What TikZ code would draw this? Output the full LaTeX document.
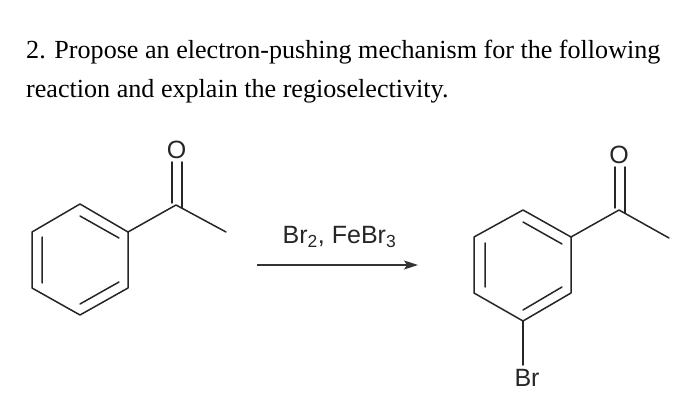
\documentclass[tikz,border=0pt]{standalone}
\usepackage{fontspec}
\setmainfont{Liberation Serif}
\newfontfamily\chemfont{Liberation Sans}
\usetikzlibrary{arrows.meta}
\tikzset{
  bond/.style={line width=1.5pt,color=black!85,line cap=round,line join=round},
  atom/.style={inner sep=0pt,font=\chemfont\fontsize{25}{25}\selectfont,text=black!85},
  reagent/.style={inner sep=0pt,font=\chemfont\fontsize{25}{26}\selectfont,text=black!85},
  question/.style={inner sep=0pt,anchor=base west,font=\fontsize{26.1}{28}\selectfont,text=black},
  rxnarrow/.style={line width=1.5pt,color=black!80,-{Stealth[length=14pt,width=9pt,inset=3pt]}}
}
\begin{document}
\begin{tikzpicture}[x=1pt,y=-1pt]
\useasboundingbox (0,0) rectangle (700,419);
\node[question] (q1) at (26,59) {2. Propose an electron-pushing mechanism for the following};
\node[question] (q2) at (26,98) {reaction and explain the regioselectivity.};
% left molecule
\coordinate (a1) at (80,204);
\coordinate (a2) at (128,232);
\coordinate (a3) at (128,288);
\coordinate (a4) at (80,315);
\coordinate (a5) at (32,288);
\coordinate (a6) at (32,232);
\coordinate (a7) at (176,205);
\coordinate (a8) at (226,232);
\coordinate (ai1) at (80,216);
\coordinate (ai2) at (119,238);
\coordinate (ai3) at (42,237);
\coordinate (ai4) at (42,283);
\coordinate (ai5) at (80,304);
\coordinate (ai6) at (119,282);
\coordinate (ao1) at (172,162);
\coordinate (ao2) at (172,203);
\coordinate (ao3) at (182,162);
\coordinate (ao4) at (182,208);
\node[atom] (oa) at (176.5,150) {O};
\draw[bond] (a1)--(a2)--(a3)--(a4)--(a5)--(a6)--cycle;
\draw[bond] (a2)--(a7)--(a8);
\draw[bond] (ai1)--(ai2) (ai3)--(ai4) (ai5)--(ai6);
\draw[bond] (ao1)--(ao2) (ao3)--(ao4);
% arrow
\coordinate (r1) at (257,265);
\coordinate (r2) at (418,265);
\draw[rxnarrow] (r1)--(r2);
\node[reagent] (rg) at (339.5,237) {Br\textsubscript{2}, FeBr\textsubscript{3}};
% right molecule
\coordinate (b1) at (523,210);
\coordinate (b2) at (571,237);
\coordinate (b3) at (571,293);
\coordinate (b4) at (523,321);
\coordinate (b5) at (474,293);
\coordinate (b6) at (474,237);
\coordinate (b7) at (619,210);
\coordinate (b8) at (669,238);
\coordinate (bi1) at (523,222);
\coordinate (bi2) at (562,244);
\coordinate (bi3) at (485,243);
\coordinate (bi4) at (485,287);
\coordinate (bi5) at (523,310);
\coordinate (bi6) at (562,287);
\coordinate (bo1) at (615,167);
\coordinate (bo2) at (615,208);
\coordinate (bo3) at (625,167);
\coordinate (bo4) at (625,213);
\coordinate (bbr) at (523,365);
\node[atom] (ob) at (619,155) {O};
\node[atom] (br) at (527,378) {Br};
\draw[bond] (b1)--(b2)--(b3)--(b4)--(b5)--(b6)--cycle;
\draw[bond] (b2)--(b7)--(b8);
\draw[bond] (bi1)--(bi2) (bi3)--(bi4) (bi5)--(bi6);
\draw[bond] (bo1)--(bo2) (bo3)--(bo4);
\draw[bond] (b4)--(bbr);
\end{tikzpicture}
\end{document}
